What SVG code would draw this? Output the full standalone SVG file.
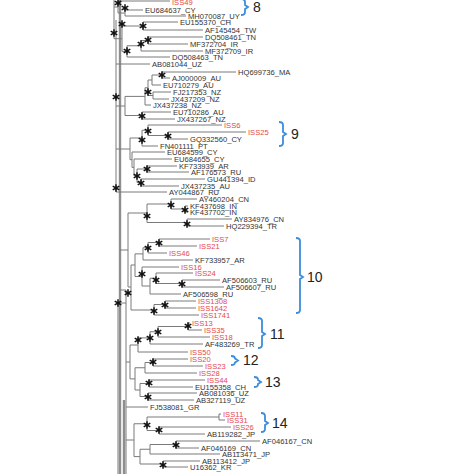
<svg xmlns="http://www.w3.org/2000/svg" xmlns:xlink="http://www.w3.org/1999/xlink" width="474" height="474" viewBox="0 0 474 474">
<style>
.e{stroke:#7a7a7a;stroke-width:1;fill:none}
.bb{stroke:#8e8e8e;stroke-width:2.4;fill:none}
.t{font-family:"Liberation Sans",Arial,sans-serif;font-size:7.6px;fill:#333}
.r{fill:#e5474c}
.br{stroke:#3c8ddb;stroke-width:1.8;fill:none}
.n{font-family:"Liberation Sans",Arial,sans-serif;font-size:14px;fill:#222}
</style>
<defs>
<g id="ast"><path d="M0 -3.8V3.8M-3.3 -1.9L3.3 1.9M-3.3 1.9L3.3 -1.9" stroke="#111" stroke-width="1.5"/></g>
</defs>
<rect width="474" height="474" fill="#fff"/>
<g id="connectors">
<path class="bb" d="M120 0V474M124 400V474"/>
<path class="e" d="M114 0V38.7M116 20V192M118 303V474M126 290V474M120 290H126M118 303H126"/>
<path class="e" d="M118 1V13M118 1H170M118 13H125M125 10V16M125 10H143M125 16H186M143 22V30M143 22H178M143 30H203M148 37V44M148 37H203M148 44H188M141 40.5V51M141 40.5H148M141 51H203M127 45.75V57M127 45.75H141M127 57H170M122 26V51.4M122 26H143M122 51.4H127M114 7H118M114 38.7H122M116 64H150"/>
<path class="e" d="M162 72V78M162 72H236M162 78H170M152 75V85M152 75H162M152 85H161M153 92V99M153 92H171M153 99H169M148 80V95.5M148 80H152M148 95.5H153M145 87.75V105M145 87.75H148M145 105H151M142 112V119M142 112H171M142 119H175M125 96.4V115.5M125 96.4H145M125 115.5H142M116 106H125"/>
<path class="e" d="M168 132V139M168 132H246M168 139H188M148 125V135.5M148 125H222M148 135.5H168M142 130.25V146M142 130.25H148M142 146H158M147 166V172M147 166H177M147 172H189M141 179V186M141 179H205M141 186H179M137 169V182.5M137 169H147M137 182.5H141M134 159V175.75M134 159H172M134 175.75H137M132 152V167.4M132 152H165M132 167.4H134M130 138V159.7M130 138H142M130 159.7H132M116 149H130M116 192H167"/>
<path class="e" d="M185 206V212M185 206H188M185 212H188M171 199V209M171 199H197M171 209H185M187 219V226M187 219H232M187 226H224M147 204V222.5M147 204H171M147 222.5H187M128 213V287M128 213H147M120 250H128"/>
<path class="e" d="M159 239V246M159 239H210M159 246H197M148 242.5V253M148 242.5H159M148 253H167M143 247.75V260M143 247.75H148M143 260H193M182 280V287M182 280H220M182 287H224M156 273V283.5M156 273H193M156 283.5H182M150 278.25V294M150 278.25H156M150 294H181M142 267V286M142 267H179M142 286H150M135 253.9V276.5M135 253.9H143M135 276.5H142M165 301V308M165 301H196M165 308H196M154 304.5V315M154 304.5H165M154 315H199M131 265V310M131 265H135M131 310H154M128 287H131"/>
<path class="e" d="M188 323V330M188 323H190M188 330H202M158 326.5V337M158 326.5H188M158 337H210M150 331.75V344M150 331.75H158M150 344H203M138 337.9V352M138 337.9H150M138 352H188M153 359V366M153 359H188M153 366H203M145 362.5V373M145 362.5H153M145 373H197M149 380V387M149 380H205M149 387H193M148 393V400M148 393H197M148 400H194M140 383.5V396.5M140 383.5H149M140 396.5H148M135 367.75V390M135 367.75H145M135 390H140M130 345V378.9M130 345H138M130 378.9H135M126 362H130M126 407H148"/>
<path class="e" d="M219 414V420M219 414H221M219 420H225M159 427V434M159 427H231M159 434H205M147 417V430.5M147 417H219M147 430.5H159M176 441V448M176 441H260M176 448H199M163 461V467M163 461H200M163 467H188M150 444.5V454M150 444.5H176M150 454H220M140 449.25V464M140 449.25H150M140 464H163M134 423.75V456.6M134 423.75H147M134 456.6H140M126 440H134"/>
</g>
<g id="support">
<use xlink:href="#ast" x="118" y="3"/><use xlink:href="#ast" x="125" y="8"/><use xlink:href="#ast" x="122" y="24"/><use xlink:href="#ast" x="143" y="26"/><use xlink:href="#ast" x="114" y="33"/><use xlink:href="#ast" x="141" y="44"/><use xlink:href="#ast" x="148" y="40"/><use xlink:href="#ast" x="127" y="51"/>
<use xlink:href="#ast" x="162" y="75"/><use xlink:href="#ast" x="116" y="97"/><use xlink:href="#ast" x="148" y="92"/><use xlink:href="#ast" x="142" y="116"/>
<use xlink:href="#ast" x="168" y="136"/><use xlink:href="#ast" x="148" y="131"/><use xlink:href="#ast" x="142" y="140"/>
<use xlink:href="#ast" x="147" y="169"/><use xlink:href="#ast" x="137" y="176"/><use xlink:href="#ast" x="141" y="183"/><use xlink:href="#ast" x="116" y="188"/>
<use xlink:href="#ast" x="171" y="205"/><use xlink:href="#ast" x="185" y="210"/><use xlink:href="#ast" x="147" y="216"/><use xlink:href="#ast" x="187" y="224"/>
<use xlink:href="#ast" x="159" y="243"/><use xlink:href="#ast" x="148" y="248"/><use xlink:href="#ast" x="142" y="274"/><use xlink:href="#ast" x="156" y="280"/><use xlink:href="#ast" x="182" y="284"/><use xlink:href="#ast" x="128" y="293"/><use xlink:href="#ast" x="118" y="303"/><use xlink:href="#ast" x="165" y="305"/><use xlink:href="#ast" x="154" y="311"/>
<use xlink:href="#ast" x="138" y="340"/><use xlink:href="#ast" x="188" y="326"/><use xlink:href="#ast" x="158" y="332"/><use xlink:href="#ast" x="150" y="338"/><use xlink:href="#ast" x="153" y="362"/><use xlink:href="#ast" x="149" y="383"/><use xlink:href="#ast" x="148" y="397"/>
<use xlink:href="#ast" x="147" y="425"/><use xlink:href="#ast" x="159" y="430"/><use xlink:href="#ast" x="176" y="445"/><use xlink:href="#ast" x="163" y="465"/>
</g>
<g id="labels" class="t">
<text x="172" y="5" class="t r">ISS49</text>
<text x="145" y="13">EU684637_CY</text>
<text x="188" y="19">MH070087_UY</text>
<text x="180" y="25">EU155370_CH</text>
<text x="205" y="33">AF145454_TW</text>
<text x="205" y="40">DQ508461_TN</text>
<text x="190" y="47">MF372704_IR</text>
<text x="205" y="54">MF372709_IR</text>
<text x="172" y="60">DQ508463_TN</text>
<text x="152" y="67">AB081044_UZ</text>
<text x="238" y="75">HQ699736_MA</text>
<text x="172" y="81">AJ000009_AU</text>
<text x="163" y="88">EU710279_AU</text>
<text x="173" y="95">FJ217353_NZ</text>
<text x="171" y="102">JX437209_NZ</text>
<text x="153" y="108">JX437238_NZ</text>
<text x="173" y="115">EU710286_AU</text>
<text x="177" y="122">JX437267_NZ</text>
<text x="224" y="128" class="t r">ISS6</text>
<text x="248" y="135" class="t r">ISS25</text>
<text x="190" y="142">GQ332560_CY</text>
<text x="160" y="149">FN401111_PT</text>
<text x="167" y="155">EU684599_CY</text>
<text x="174" y="162">EU684655_CY</text>
<text x="179" y="169">KF733939_AR</text>
<text x="191" y="175">AF176573_RU</text>
<text x="207" y="182">GU441394_ID</text>
<text x="181" y="189">JX437235_AU</text>
<text x="169" y="195">AY044867_RU</text>
<text x="199" y="202">AY460204_CN</text>
<text x="190" y="209">KF437698_IN</text>
<text x="190" y="215">KF437702_IN</text>
<text x="234" y="222">AY834976_CN</text>
<text x="226" y="229">HQ229394_TR</text>
<text x="212" y="242" class="t r">ISS7</text>
<text x="199" y="249" class="t r">ISS21</text>
<text x="169" y="256" class="t r">ISS46</text>
<text x="195" y="263">KF733957_AR</text>
<text x="181" y="270" class="t r">ISS16</text>
<text x="195" y="276" class="t r">ISS24</text>
<text x="222" y="283">AF506603_RU</text>
<text x="226" y="290">AF506607_RU</text>
<text x="183" y="297">AF506598_RU</text>
<text x="198" y="304" class="t r">ISS1308</text>
<text x="198" y="311" class="t r">ISS1642</text>
<text x="201" y="318" class="t r">ISS1741</text>
<text x="192" y="326" class="t r">ISS13</text>
<text x="204" y="333" class="t r">ISS35</text>
<text x="212" y="340" class="t r">ISS18</text>
<text x="205" y="347">AF483269_TR</text>
<text x="190" y="355" class="t r">ISS50</text>
<text x="190" y="362" class="t r">ISS20</text>
<text x="205" y="369" class="t r">ISS23</text>
<text x="199" y="376" class="t r">ISS28</text>
<text x="207" y="383" class="t r">ISS44</text>
<text x="195" y="390">EU155358_CH</text>
<text x="199" y="396">AB081036_UZ</text>
<text x="196" y="403">AB327119_UZ</text>
<text x="150" y="410">FJ538081_GR</text>
<text x="223" y="417" class="t r">ISS11</text>
<text x="227" y="423" class="t r">ISS31</text>
<text x="233" y="430" class="t r">ISS26</text>
<text x="207" y="437">AB119282_JP</text>
<text x="262" y="444">AF046167_CN</text>
<text x="201" y="451">AF046169_CN</text>
<text x="222" y="457">AB113471_JP</text>
<text x="202" y="464">AB113412_JP</text>
<text x="190" y="470">U16362_KR</text>
</g>
<g id="clade-8"><path class="br" d="M241 -1Q245 -1 245 2V5L248 7L245 9V12Q245 15 241 15"/><text class="n" x="253" y="12">8</text></g>
<g id="clade-9"><path class="br" d="M279 122Q283 122 283 125V132L286 134L283 136V143Q283 146 279 146"/><text class="n" x="291" y="139">9</text></g>
<g id="clade-10"><path class="br" d="M296 238Q300 238 300 241V275L303 277L300 279V310Q300 313 296 313"/><text class="n" x="307" y="282">10</text></g>
<g id="clade-11"><path class="br" d="M258 318Q262 318 262 321V332L265 334L262 336V345Q262 348 258 348"/><text class="n" x="270" y="339">11</text></g>
<g id="clade-12"><path class="br" d="M231 356Q235 356 235 358.5L238 360.5L235 362.5Q235 365 231 365"/><text class="n" x="243" y="365">12</text></g>
<g id="clade-13"><path class="br" d="M254 377Q258 377 258 379.5V380L261 382L258 384V384.5Q258 387 254 387"/><text class="n" x="265" y="387">13</text></g>
<g id="clade-14"><path class="br" d="M261 413Q265 413 265 416V421L268 423L265 425V429Q265 432 261 432"/><text class="n" x="272" y="428">14</text></g>
</svg>
